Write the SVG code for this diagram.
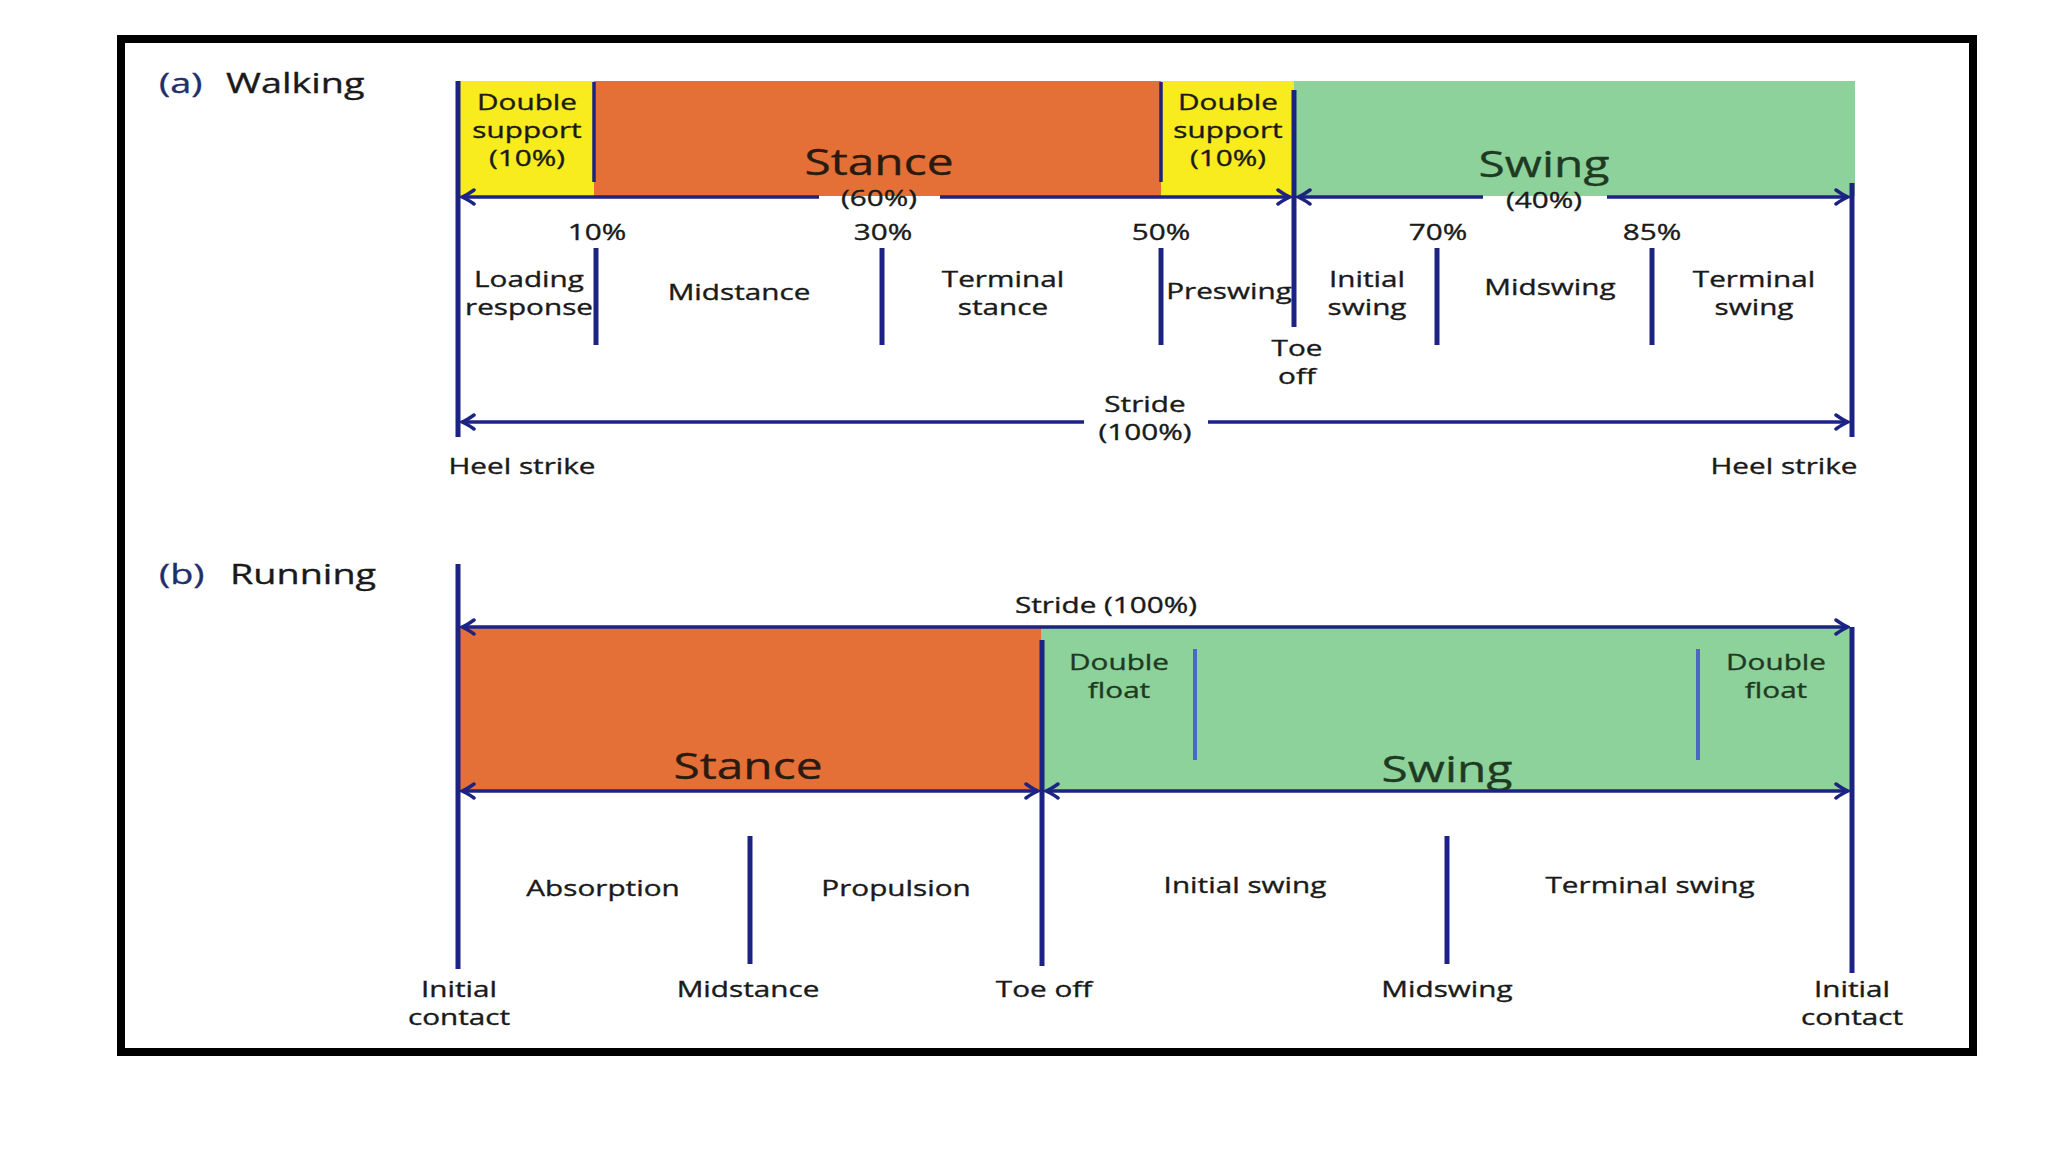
<svg xmlns="http://www.w3.org/2000/svg" width="2048" height="1152" viewBox="0 0 2048 1152">
<defs>
<style>
.t{font-family:"Open Sans","Noto Sans","Liberation Sans",sans-serif;font-size:22px;fill:#1a1a1a;stroke:#1a1a1a;stroke-width:0.35;text-anchor:middle}
.big{font-size:36px}
.ttl{font-size:28px;text-anchor:start}
.lab{fill:#1f2f6e;stroke:#1f2f6e}
.ln{stroke:#1c2382;stroke-width:5;fill:none}
.ar{stroke:#1c2382;stroke-width:3.5;fill:none}
.dv{stroke:#4a68c4;stroke-width:4;fill:none}
.y{fill:#f8eb1e}
.o{fill:#e46f37}
.g{fill:#8ed29b}
.so{fill:#2a1a10;stroke:#2a1a10}
.sg{fill:#1e3a22;stroke:#1e3a22}
</style>
<marker id="ah" viewBox="-14 -9 16 18" refX="0" refY="0" markerWidth="16" markerHeight="18" markerUnits="userSpaceOnUse" orient="auto-start-reverse">
<path d="M-12,-7 Q-5,-2 0,0 Q-5,2 -12,7" fill="none" stroke="#1c2382" stroke-width="3.5" stroke-linecap="round"/>
</marker>
</defs>
<rect x="0" y="0" width="2048" height="1152" fill="#ffffff"/>
<rect x="121" y="39" width="1852" height="1013" fill="none" stroke="#000" stroke-width="8"/>

<g id="title-a">
<text class="t ttl lab" transform="translate(159,93) scale(1.35,1)">(a)</text>
<text class="t ttl" transform="translate(226,93) scale(1.35,1)">Walking</text>
</g>
<g id="title-b">
<text class="t ttl lab" transform="translate(159,584) scale(1.35,1)">(b)</text>
<text class="t ttl" transform="translate(230,584) scale(1.35,1)">Running</text>
</g>

<!-- Walking nodes -->
<g id="walk-double-support-1">
<rect class="y" x="458" y="81" width="136" height="115"/>
<text class="t" transform="translate(527,110) scale(1.35,1)"><tspan x="0">Double</tspan><tspan x="0" dy="28">support</tspan><tspan x="0" dy="28">(10%)</tspan></text>
</g>
<g id="walk-stance">
<rect class="o" x="594" y="81" width="567" height="115"/>
<text class="t big so" transform="translate(879,175) scale(1.33,1)">Stance</text>
<text class="t" transform="translate(879,206) scale(1.35,1)">(60%)</text>
</g>
<g id="walk-double-support-2">
<rect class="y" x="1161" y="81" width="133" height="115"/>
<text class="t" transform="translate(1228,110) scale(1.35,1)"><tspan x="0">Double</tspan><tspan x="0" dy="28">support</tspan><tspan x="0" dy="28">(10%)</tspan></text>
</g>
<g id="walk-swing">
<rect class="g" x="1294" y="81" width="561" height="115"/>
<text class="t big sg" transform="translate(1544,177) scale(1.33,1)">Swing</text>
<text class="t" transform="translate(1544,208) scale(1.35,1)">(40%)</text>
</g>

<g id="walk-labels">
<text class="t" transform="translate(597,240) scale(1.35,1)">10%</text>
<text class="t" transform="translate(883,240) scale(1.35,1)">30%</text>
<text class="t" transform="translate(1161,240) scale(1.35,1)">50%</text>
<text class="t" transform="translate(1438,240) scale(1.35,1)">70%</text>
<text class="t" transform="translate(1652,240) scale(1.35,1)">85%</text>
<text class="t" transform="translate(529,287) scale(1.35,1)"><tspan x="0">Loading</tspan><tspan x="0" dy="28">response</tspan></text>
<text class="t" transform="translate(739,300) scale(1.35,1)">Midstance</text>
<text class="t" transform="translate(1003,287) scale(1.35,1)"><tspan x="0">Terminal</tspan><tspan x="0" dy="28">stance</tspan></text>
<text class="t" transform="translate(1229,299) scale(1.35,1)">Preswing</text>
<text class="t" transform="translate(1367,287) scale(1.35,1)"><tspan x="0">Initial</tspan><tspan x="0" dy="28">swing</tspan></text>
<text class="t" transform="translate(1550,295) scale(1.35,1)">Midswing</text>
<text class="t" transform="translate(1754,287) scale(1.35,1)"><tspan x="0">Terminal</tspan><tspan x="0" dy="28">swing</tspan></text>
<text class="t" transform="translate(1297,356) scale(1.35,1)"><tspan x="0">Toe</tspan><tspan x="0" dy="28">off</tspan></text>
<text class="t" transform="translate(1145,412) scale(1.35,1)"><tspan x="0">Stride</tspan><tspan x="0" dy="28">(100%)</tspan></text>
<text class="t" transform="translate(522,474) scale(1.35,1)">Heel strike</text>
<text class="t" transform="translate(1784,474) scale(1.35,1)">Heel strike</text>
</g>

<!-- Running nodes -->
<g id="run-stance">
<rect class="o" x="458" y="627" width="583" height="164"/>
<text class="t big so" transform="translate(748,779) scale(1.33,1)">Stance</text>
</g>
<g id="run-swing">
<rect class="g" x="1041" y="627" width="811" height="164"/>
<text class="t big sg" transform="translate(1447,782) scale(1.33,1)">Swing</text>
</g>
<g id="run-double-float-1">
<text class="t sg" transform="translate(1119,670) scale(1.35,1)"><tspan x="0">Double</tspan><tspan x="0" dy="28">float</tspan></text>
</g>
<g id="run-double-float-2">
<text class="t sg" transform="translate(1776,670) scale(1.35,1)"><tspan x="0">Double</tspan><tspan x="0" dy="28">float</tspan></text>
</g>
<g id="run-labels">
<text class="t" transform="translate(1106,613) scale(1.35,1)">Stride (100%)</text>
<text class="t" transform="translate(603,896) scale(1.35,1)">Absorption</text>
<text class="t" transform="translate(896,896) scale(1.35,1)">Propulsion</text>
<text class="t" transform="translate(1245,893) scale(1.35,1)">Initial swing</text>
<text class="t" transform="translate(1650,893) scale(1.35,1)">Terminal swing</text>
<text class="t" transform="translate(459,997) scale(1.35,1)"><tspan x="0">Initial</tspan><tspan x="0" dy="28">contact</tspan></text>
<text class="t" transform="translate(748,997) scale(1.35,1)">Midstance</text>
<text class="t" transform="translate(1044,997) scale(1.35,1)">Toe off</text>
<text class="t" transform="translate(1447,997) scale(1.35,1)">Midswing</text>
<text class="t" transform="translate(1852,997) scale(1.35,1)"><tspan x="0">Initial</tspan><tspan x="0" dy="28">contact</tspan></text>
</g>

<g id="connectors">
<!-- walking -->
<line class="ln" x1="458" y1="81" x2="458" y2="437"/>
<line class="ln" x1="1852" y1="183" x2="1852" y2="437"/>
<line class="ln" x1="1294" y1="90" x2="1294" y2="327"/>
<line class="ar" x1="594" y1="82" x2="594" y2="182"/>
<line class="ar" x1="1161" y1="82" x2="1161" y2="182"/>
<line class="ar" x1="462" y1="197" x2="819" y2="197" marker-start="url(#ah)"/>
<line class="ar" x1="940" y1="197" x2="1290" y2="197" marker-end="url(#ah)"/>
<line class="ar" x1="1298" y1="197" x2="1483" y2="197" marker-start="url(#ah)"/>
<line class="ar" x1="1607" y1="197" x2="1848" y2="197" marker-end="url(#ah)"/>
<line class="ln" x1="596" y1="248" x2="596" y2="345"/>
<line class="ln" x1="882" y1="248" x2="882" y2="345"/>
<line class="ln" x1="1161" y1="248" x2="1161" y2="345"/>
<line class="ln" x1="1437" y1="248" x2="1437" y2="345"/>
<line class="ln" x1="1652" y1="248" x2="1652" y2="345"/>
<line class="ar" x1="462" y1="422" x2="1084" y2="422" marker-start="url(#ah)"/>
<line class="ar" x1="1208" y1="422" x2="1848" y2="422" marker-end="url(#ah)"/>
<!-- running -->
<line class="ln" x1="458" y1="564" x2="458" y2="969"/>
<line class="ln" x1="1852" y1="627" x2="1852" y2="973"/>
<line class="ln" x1="1042" y1="640" x2="1042" y2="966"/>
<line class="ar" x1="462" y1="627" x2="1848" y2="627" marker-start="url(#ah)" marker-end="url(#ah)"/>
<line class="ar" x1="462" y1="791" x2="1038" y2="791" marker-start="url(#ah)" marker-end="url(#ah)"/>
<line class="ar" x1="1046" y1="791" x2="1848" y2="791" marker-start="url(#ah)" marker-end="url(#ah)"/>
<line class="dv" x1="1195" y1="649" x2="1195" y2="760"/>
<line class="dv" x1="1698" y1="649" x2="1698" y2="760"/>
<line class="ln" x1="750" y1="836" x2="750" y2="964"/>
<line class="ln" x1="1447" y1="836" x2="1447" y2="964"/>
</g>
</svg>
